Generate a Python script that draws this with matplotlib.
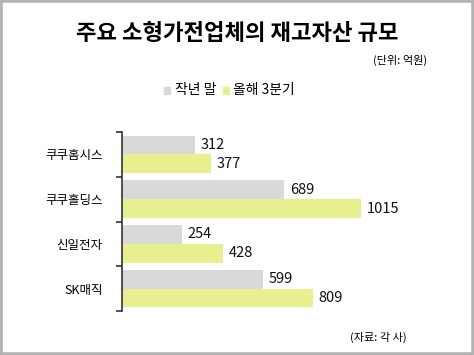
import matplotlib.pyplot as plt
import numpy as np
from matplotlib.patches import Rectangle

plt.rcParams['font.family'] = ['Noto Sans CJK KR', 'DejaVu Sans']

companies = ['쿠쿠홈시스', '쿠쿠홀딩스', '신일전자', 'SK매직']
last_year = [312, 689, 254, 599]
this_q3 = [377, 1015, 428, 809]
series_names = ['작년 말', '올해 3분기']

gray = '#d9d9d9'
yellow = '#e8ef8e'

fig = plt.figure(figsize=(4.74, 3.55), dpi=100)
ax = fig.add_axes([122/474, (355-311)/355, (440-122)/474, (311-132)/355])

y = np.arange(len(companies))
h = 0.42
b1 = ax.barh(y - h/2, last_year, height=h, color=gray)
b2 = ax.barh(y + h/2, this_q3, height=h, color=yellow)

for bars in (b1, b2):
    for rect in bars:
        w = rect.get_width()
        ax.annotate(str(int(w)), (w, rect.get_y() + rect.get_height()/2),
                    xytext=(4, 0), textcoords='offset points',
                    ha='left', va='center', fontsize=10.5, color='#111111')

ax.set_xlim(0, 1350)
ax.set_ylim(len(companies) - 0.5, -0.5)
ax.set_yticks(np.arange(len(companies) + 1) - 0.5)
ax.set_yticklabels([])
ax.set_yticks(y, minor=True)
ax.set_yticklabels(companies, minor=True, fontsize=9)
ax.tick_params(axis='y', which='major', length=4, width=1.2, color='#333333', direction='out')
ax.tick_params(axis='y', which='minor', length=0, pad=14)
ax.set_xticks([])
for s in ['top', 'right', 'bottom']:
    ax.spines[s].set_visible(False)
ax.spines['left'].set_color('#333333')
ax.spines['left'].set_linewidth(1.2)

fig.text(0.5, 1 - 33/355, '주요 소형가전업체의 재고자산 규모', ha='center', va='center',
         fontsize=16, fontweight='bold')
fig.text(400/474, 1 - 60/355, '(단위: 억원)', ha='center', va='center', fontsize=8)
fig.text(378/474, 1 - 337/355, '(자료: 각 사)', ha='center', va='center', fontsize=8)

# legend
fig.patches.append(Rectangle((164/474, 1 - 94/355), 6/474, 7/355, color=gray,
                             transform=fig.transFigure, figure=fig))
fig.text(175/474, 1 - 90/355, series_names[0], ha='left', va='center', fontsize=10)
fig.patches.append(Rectangle((223/474, 1 - 94/355), 6/474, 7/355, color=yellow,
                             transform=fig.transFigure, figure=fig))
fig.text(233/474, 1 - 90/355, series_names[1], ha='left', va='center', fontsize=10)

# frame
fig.patches.append(Rectangle((0, 0), 1, 1, fill=False, edgecolor='#b3b3b3', linewidth=4,
                             transform=fig.transFigure, figure=fig))

fig.savefig('out.png', dpi=100)
